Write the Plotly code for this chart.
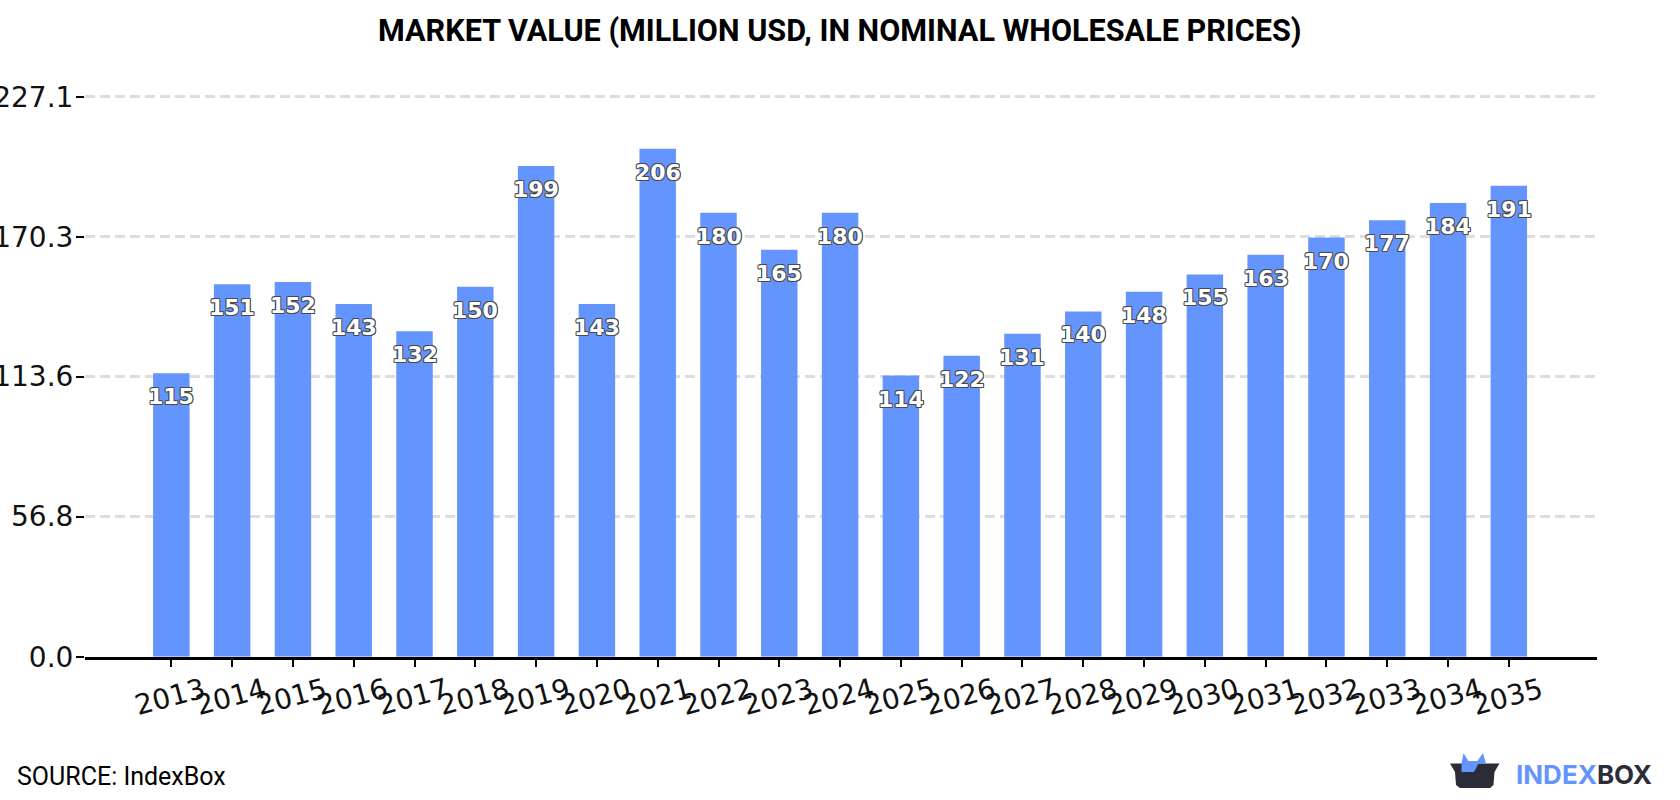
import plotly.graph_objects as go

years = list(range(2013, 2036))
market_value = [115, 151, 152, 143, 132, 150, 199, 143, 206, 180, 165, 180,
                114, 122, 131, 140, 148, 155, 163, 170, 177, 184, 191]
y_tick_values = [0.0, 56.8, 113.6, 170.3, 227.1]
y_tick_labels = ["0.0", "56.8", "113.6", "170.3", "227.1"]
title_text = "MARKET VALUE (MILLION USD, IN NOMINAL WHOLESALE PRICES)"
source_text = "SOURCE: IndexBox"

W, H = 1680, 800
BLUE = "#6495ff"
DARK = "#2a2d38"
OUTLINE = "#4a4a4a"


def fx(x):
    return x / W


def fy(y):
    return 1 - y / H


def poly(points):
    """SVG path in paper coordinates from a list of page-pixel points."""
    return "M" + " L".join(f"{fx(x):.5f},{fy(y):.5f}" for x, y in points) + " Z"


# value labels: white bold digits with a thin grey halo
halo = ",".join(f"{dx}px {dy}px 0.3px {OUTLINE}"
                for dx, dy in [(-0.8, -0.8), (0.8, -0.8), (-0.8, 0.8), (0.8, 0.8),
                               (-1, 0), (1, 0), (0, -1), (0, 1)])

annotations = [
    dict(x=year, y=value, xref="x", yref="y", text=str(value), showarrow=False,
         yshift=-23.5, xanchor="center", yanchor="middle",
         font=dict(family="DejaVu Sans", size=22, color="white", weight="bold", shadow=halo))
    for year, value in zip(years, market_value)
]
annotations += [
    dict(x=fx(840), y=fy(31), xref="paper", yref="paper", text=f"<b>{title_text}</b>",
         showarrow=False, xanchor="center", yanchor="middle",
         font=dict(family="Roboto", size=30.6, color="black")),
    dict(x=fx(15), y=fy(776), xref="paper", yref="paper", text=source_text,
         showarrow=False, xanchor="left", yanchor="middle",
         font=dict(family="Roboto", size=25, color="black")),
    dict(x=fx(1514), y=fy(774), xref="paper", yref="paper",
         text=f'<b><span style="color:{BLUE}">INDEX</span><span style="color:{DARK}">BOX</span></b>',
         showarrow=False, xanchor="left", yanchor="middle",
         font=dict(family="Inter", size=26, color=DARK)),
]

# IndexBox mark: dark open box with a blue crown rising out of it
box_outline = [(1450, 763.5), (1499.5, 763.5), (1494.5, 772), (1493.5, 785), (1490, 788),
               (1460, 788), (1456, 785), (1455, 772)]
crown_outline = [(1461.5, 763.5), (1463.5, 753), (1468.5, 761), (1477.5, 761), (1483, 753),
                 (1486, 763.5), (1478.5, 763.5), (1474, 772), (1461.5, 772)]
shapes = [
    dict(type="path", xref="paper", yref="paper", path=poly(box_outline),
         fillcolor=DARK, line=dict(width=0), layer="above"),
    dict(type="path", xref="paper", yref="paper", path=poly(crown_outline),
         fillcolor=BLUE, line=dict(width=0), layer="above"),
]

fig = go.Figure(go.Bar(x=years, y=market_value, width=0.6, marker=dict(color=BLUE, line=dict(width=0)),
                       hoverinfo="x+y"))

fig.update_layout(
    width=W, height=H, autosize=False, showlegend=False,
    margin=dict(l=0, r=0, t=0, b=0),
    paper_bgcolor="white", plot_bgcolor="white",
    annotations=annotations, shapes=shapes,
    xaxis=dict(
        domain=[fx(85), fx(1597)], range=[2013 - 1.42, 2013 + 23.45],
        tickmode="array", tickvals=years, ticktext=[str(y) for y in years],
        tickangle=-15, ticklabelshift=32, ticklabelstandoff=-3,
        ticks="outside", ticklen=7, tickwidth=2, tickcolor="black",
        tickfont=dict(family="DejaVu Sans", size=28, color="#111111"),
        showline=True, linecolor="black", linewidth=3, showgrid=False, zeroline=False,
        automargin=False,
    ),
    yaxis=dict(
        # the range runs a little past the top tick so its gridline stays drawn
        domain=[fy(656.7), fy(89.55)], range=[0, 230],
        tickmode="array", tickvals=y_tick_values, ticktext=y_tick_labels,
        ticklabelstandoff=-3,
        ticks="outside", ticklen=8, tickwidth=2, tickcolor="black",
        tickfont=dict(family="DejaVu Sans", size=28, color="#111111"),
        showline=False, showgrid=True, gridcolor="#dddddd", gridwidth=2.6, griddash="10px,5px",
        zeroline=False, automargin=False,
    ),
)

fig.write_html("out.html")
